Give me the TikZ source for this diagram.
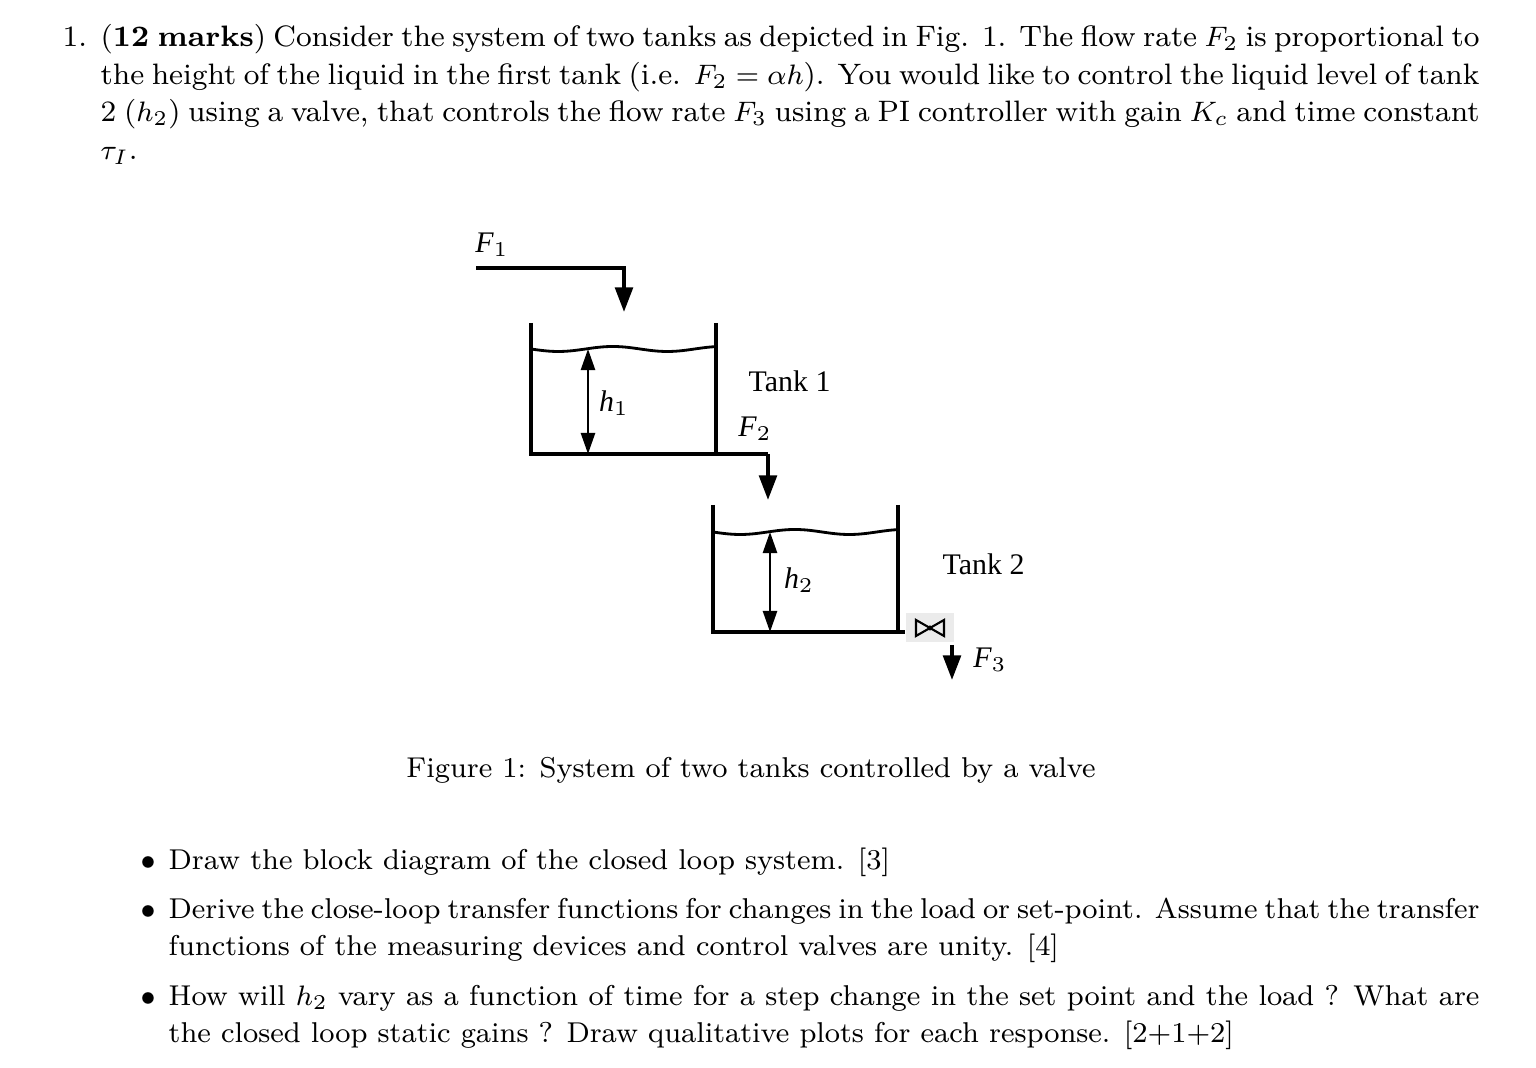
\documentclass[tikz,border=0pt]{standalone}
\usepackage{fontspec}
\newfontfamily\figfont{Liberation Serif}
\usetikzlibrary{arrows.meta}
\tikzset{
  ln/.style={anchor=base west,inner sep=0pt,font=\fontsize{8.4}{10}\selectfont},
  lnb/.style={anchor=base west,inner sep=0pt,font=\fontsize{8.15}{10}\selectfont},
  pipe/.style={line width=1.3pt},
  flow/.style={line width=1.1pt,-{Triangle[length=7pt,width=5pt]}},
  dim/.style={line width=0.7pt,{Triangle[length=6pt,width=4pt]}-{Triangle[length=6pt,width=4pt]}},
  lab/.style={font=\figfont\fontsize{8.5}{10}\selectfont,inner sep=0pt},
}
\newcommand{\jl}[2]{\makebox[#1][s]{#2}}
\begin{document}
\begin{tikzpicture}[x=0.01cm,y=-0.01cm]
\useasboundingbox (0,0) rectangle (1536,1068);
% question text
\node[ln] (n1) at (62,47) {1.};
\node[ln] (l1) at (100,47) {\jl{13.78cm}{(\textbf{12 marks}) Consider the system of two tanks as depicted in Fig. 1. The flow rate $F_2$ is proportional to}};
\node[ln] (l2) at (100,85) {\jl{13.78cm}{the height of the liquid in the first tank (i.e. $F_2=\alpha h$). You would like to control the liquid level of tank}};
\node[ln] (l3) at (100,122) {\jl{13.78cm}{2 ($h_2$) using a valve, that controls the flow rate $F_3$ using a PI controller with gain $K_c$ and time constant}};
\node[ln] (l4) at (100,160) {$\tau_I$.};
% tank 1
\coordinate (f1s) at (476,268);
\coordinate (f1c) at (624,268);
\coordinate (f1e) at (624,312);
\draw[flow] (f1s) -- (f1c) -- (f1e);
\draw[pipe] (531,323) -- (531,454) -- (768,454);
\draw[pipe] (716,323) -- (716,454);
\coordinate (f2c) at (768,454);
\coordinate (f2e) at (768,500);
\draw[flow] (f2c) -- (f2e);
\draw[line width=0.8pt] plot[domain=531:716,samples=80,smooth] (\x,{349+2.5*sin((\x-531)*3.3)});
\coordinate (h1t) at (588,349);
\coordinate (h1b) at (588,454);
\draw[dim] (h1t) -- (h1b);
\node[lab] (h1) at (614,403) {\textit{h}$_1$};
\node[lab,anchor=west] (t1) at (748,381) {Tank 1};
\node[lab] (F2) at (755,429) {\textit{F}$_2$};
\node[lab] (F1) at (492,245) {\textit{F}$_1$};
% tank 2
\draw[pipe] (713,505) -- (713,632) -- (905,632);
\draw[pipe] (898,505) -- (898,632);
\draw[line width=0.8pt] plot[domain=713:898,samples=80,smooth] (\x,{532+2.5*sin((\x-713)*3.3)});
\coordinate (h2t) at (770,532);
\coordinate (h2b) at (770,632);
\draw[dim] (h2t) -- (h2b);
\node[lab] (h2) at (799,580) {\textit{h}$_2$};
\node[lab,anchor=west] (t2) at (942,564) {Tank 2};
% valve
\node[fill=black!8,inner sep=0pt,minimum width=0.48cm,minimum height=0.29cm] (vb) at (930,628) {};
\draw[line width=0.6pt] (916,620) -- (944,636) -- (944,620) -- (916,636) -- cycle;
\fill (930,628) circle (2.5);
\coordinate (f3s) at (952,645);
\coordinate (f3e) at (952,680);
\draw[flow] (f3s) -- (f3e);
\node[lab] (F3) at (990,660) {\textit{F}$_3$};
% caption
\node[anchor=base,inner sep=0pt,font=\fontsize{8.15}{10}\selectfont] (cap) at (751,778) {Figure 1: System of two tanks controlled by a valve};
% bullets
\node[lnb] (b1) at (140,870) {$\bullet$};
\node[lnb] (i1) at (168,870) {Draw the block diagram of the closed loop system. [3]};
\node[lnb] (b2) at (140,919) {$\bullet$};
\node[lnb] (i2) at (168,919) {\jl{13.1cm}{Derive the close-loop transfer functions for changes in the load or set-point. Assume that the transfer}};
\node[lnb] (i2b) at (168,956) {functions of the measuring devices and control valves are unity. [4]};
\node[lnb] (b3) at (140,1006) {$\bullet$};
\node[lnb] (i3) at (168,1006) {\jl{13.1cm}{How will $h_2$ vary as a function of time for a step change in the set point and the load ? What are}};
\node[lnb] (i3b) at (168,1043) {the closed loop static gains ? Draw qualitative plots for each response. [2+1+2]};
\end{tikzpicture}
\end{document}
